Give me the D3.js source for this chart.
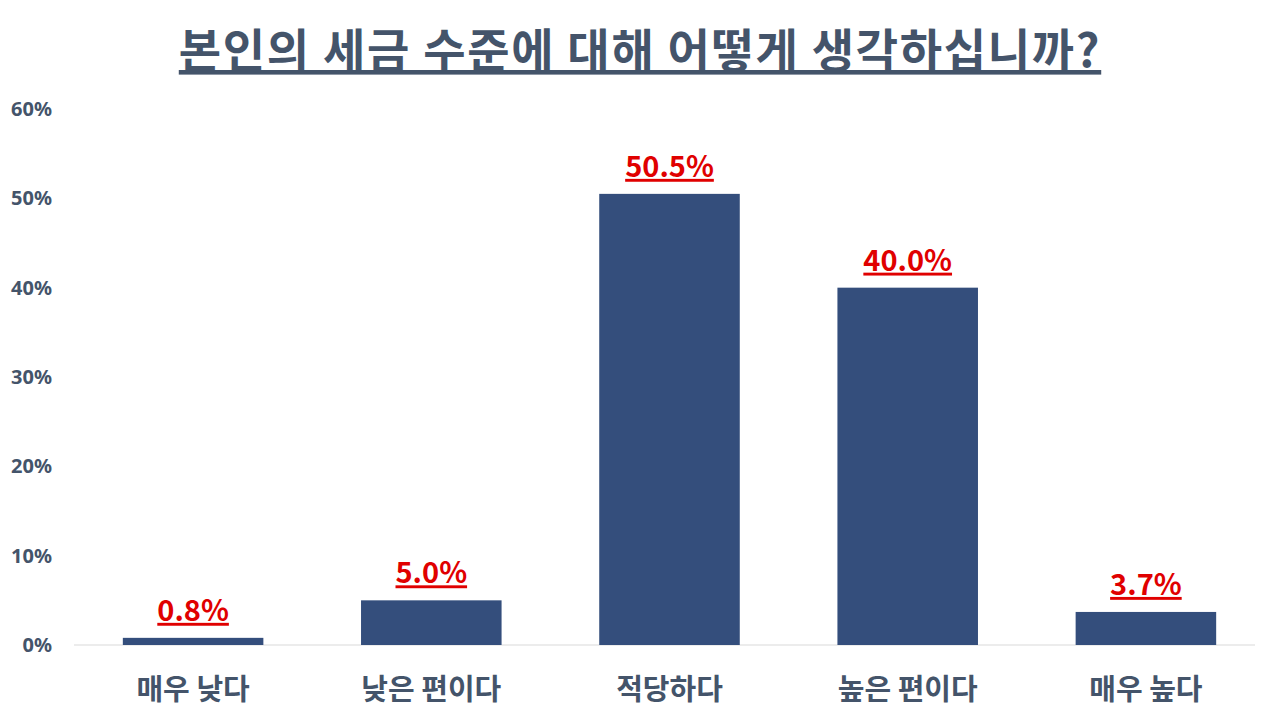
<!DOCTYPE html>
<html>
<head>
<meta charset="utf-8">
<script src="https://cdn.jsdelivr.net/npm/d3@7"></script>
<style>
  body { margin: 0; background: #fff; }
  text { font-family: "Noto Sans CJK KR", "Noto Sans", sans-serif; }
</style>
</head>
<body>
<script>
// chart data
var categories = ["매우 낮다", "낮은 편이다", "적당하다", "높은 편이다", "매우 높다"];
var values = [0.8, 5.0, 50.5, 40.0, 3.7];
var yTicks = [0, 10, 20, 30, 40, 50, 60];
var title = "본인의 세금 수준에 대해 어떻게 생각하십니까?";

var svg = d3.select("body").append("svg")
          .attr("width", 1280)
          .attr("height", 720);

var x = d3.scaleBand()
          .domain(categories)
          .range([74, 1265])
          .paddingInner(0.41)
          .paddingOuter(0.205);

var y = d3.scaleLinear()
          .domain([0, 60])
          .range([645, 109]);

// title with underline
svg.append("text")
   .attr("x", 640)
   .attr("y", 67)
   .attr("text-anchor", "middle")
   .style("font-size", "46px")
   .style("font-weight", "bold")
   .style("letter-spacing", "1.7px")
   .style("fill", "#44546a")
   .style("text-decoration", "underline")
   .text(title);

// y axis labels, no line
var yAxis = d3.axisLeft(y)
              .tickValues(yTicks)
              .tickFormat(function(d) { return d + "%"; })
              .tickSize(0)
              .tickPadding(0);

var gy = svg.append("g")
   .attr("transform", "translate(52,0)")
   .call(yAxis);
gy.select(".domain").remove();
gy.selectAll("text")
   .style("font-size", "20px")
   .style("font-weight", "bold")
   .style("fill", "#44546a")
   .style("font-family", "\"Noto Sans\", \"Noto Sans CJK KR\", sans-serif");

// baseline
svg.append("line")
   .attr("x1", 74).attr("x2", 1255)
   .attr("y1", y(0)).attr("y2", y(0))
   .attr("stroke", "#d9d9d9")
   .attr("stroke-width", 1);

// bars
svg.selectAll("rect.bar")
   .data(values)
   .enter().append("rect")
   .attr("class", "bar")
   .attr("x", function(d, i) { return x(categories[i]); })
   .attr("width", x.bandwidth())
   .attr("y", function(d) { return y(d); })
   .attr("height", function(d) { return y(0) - y(d); })
   .attr("fill", "#344e7c");

// value labels
svg.selectAll("text.val")
   .data(values)
   .enter().append("text")
   .attr("class", "val")
   .attr("x", function(d, i) { return x(categories[i]) + x.bandwidth() / 2; })
   .attr("y", function(d) { return y(d) - 17; })
   .attr("text-anchor", "middle")
   .style("font-size", "29px")
   .style("font-weight", "bold")
   .style("fill", "#e00000")
   .style("text-decoration", "underline")
   .text(function(d) { return d.toFixed(1) + "%"; });

// category labels
var xAxis = d3.axisBottom(x).tickSize(0).tickPadding(0);
var gx = svg.append("g")
   .attr("transform", "translate(0,679)")
   .call(xAxis);
gx.select(".domain").remove();
gx.selectAll("text")
   .style("font-size", "29px")
   .style("font-weight", "bold")
   .style("fill", "#44546a")
   .style("font-family", "\"Noto Sans CJK KR\", sans-serif");
</script>
</body>
</html>
